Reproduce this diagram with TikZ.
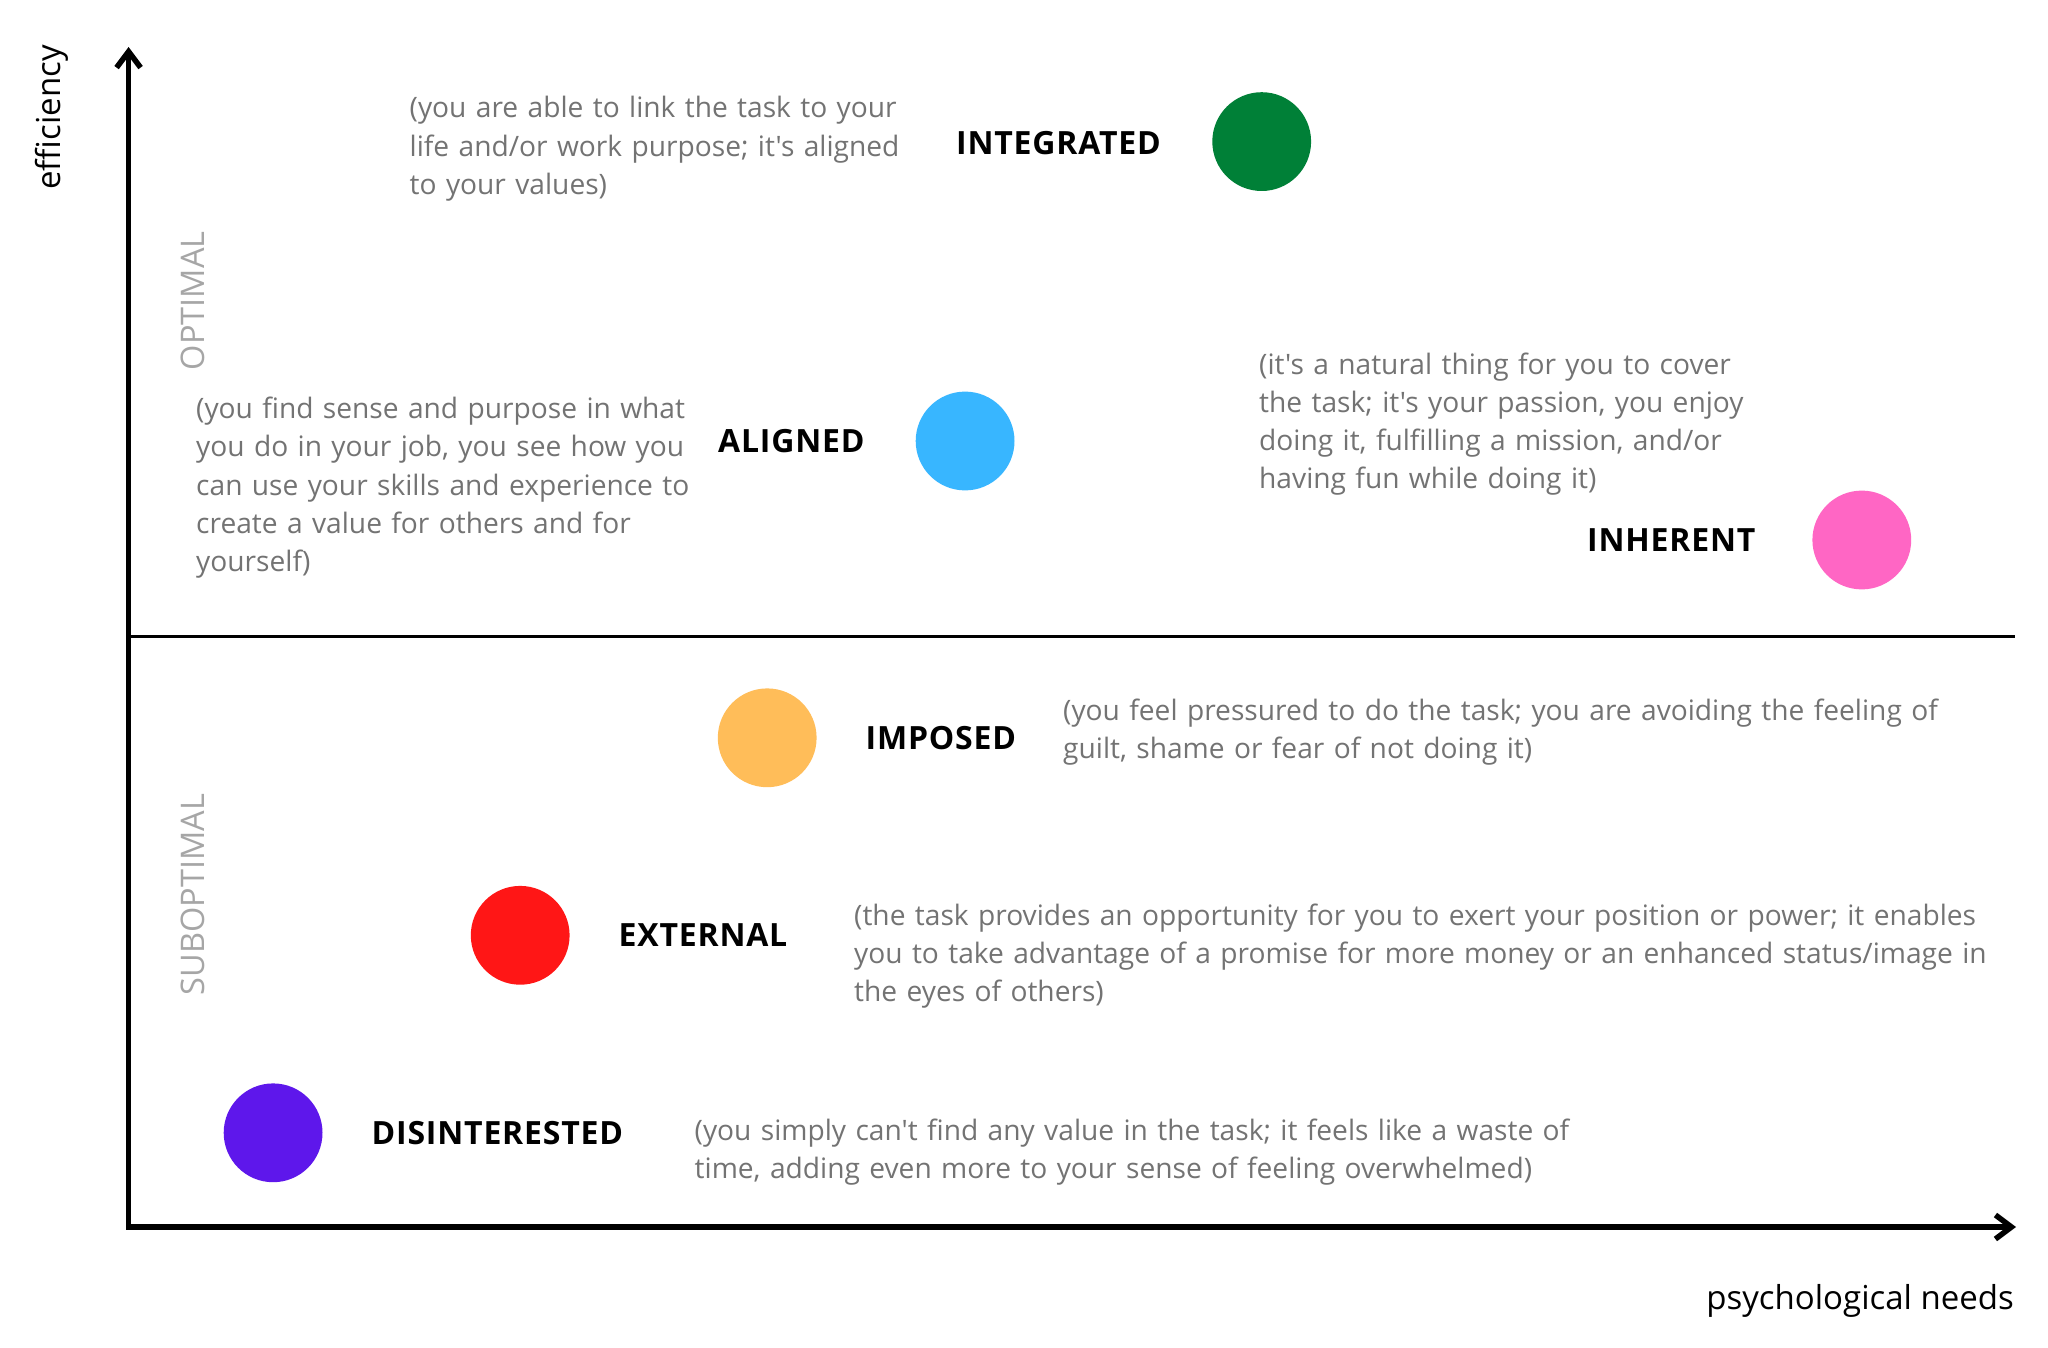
\documentclass[tikz,border=0pt]{standalone}
\usepackage{fontspec}
\setmainfont{Open Sans}[Ligatures=TeXOff]
\newfontfamily\catfont{Open Sans}[Ligatures=TeXOff,LetterSpace=2.5]
\usetikzlibrary{arrows.meta}
\definecolor{cgreen}{HTML}{008037}
\definecolor{cblue}{HTML}{38B6FF}
\definecolor{cpink}{HTML}{FF66C4}
\definecolor{corange}{HTML}{FFBD59}
\definecolor{cred}{HTML}{FF1616}
\definecolor{cpurple}{HTML}{5E17EB}
\definecolor{desctext}{HTML}{737373}
\definecolor{zonetext}{HTML}{A6A6A6}
\begin{document}
\begin{tikzpicture}[x=1pt,y=-1pt,
  dot/.style={circle,minimum size=98.8pt,inner sep=0pt,draw=none},
  descbox/.style={anchor=base west,inner sep=0pt,text width=1300pt,align=left,text=desctext,font=\fontsize{28.15}{38.3}\selectfont},
  catname/.style={anchor=base west,inner sep=0pt,font=\catfont\fontsize{32}{38}\selectfont\bfseries},
  zonename/.style={rotate=90,anchor=base,inner sep=0pt,text=zonetext,font=\fontsize{32.5}{38}\selectfont},
  axisname/.style={inner sep=0pt,font=\fontsize{33}{40}\selectfont},
  axisline/.style={line width=5.5pt},
  midline/.style={line width=2.6pt},
  barb/.tip={Straight Barb[length=16pt,width=24pt]}
]
\useasboundingbox (0,0) rectangle (2048,1348);
\fill[white] (0,0) rectangle (2048,1348);

% axes
\coordinate (O) at (128.6,1227);
\coordinate (ytop) at (128.6,47);
\coordinate (xend) at (2016,1227);
\draw[axisline,barb-barb] (ytop) -- (O) -- (xend);
\coordinate (ml) at (128.6,636.5);
\coordinate (mr) at (2015,636.5);
\draw[midline] (ml) -- (mr);

\node[axisname,rotate=90,anchor=base] (eff) at (60.7,117.3) {efficiency};
\node[axisname,anchor=base east] (psy) at (2014,1309.4) {psychological needs};

\node[zonename] (opt) at (204,300.8) {OPTIMAL};
\node[zonename] (subopt) at (204,894.7) {SUBOPTIMAL};

% dots
\node[dot,fill=cgreen] (dintegrated) at (1261.7,141.6) {};
\node[dot,fill=cblue] (daligned) at (965.1,441) {};
\node[dot,fill=cpink] (dinherent) at (1861.8,540) {};
\node[dot,fill=corange] (dimposed) at (767.2,737.8) {};
\node[dot,fill=cred] (dexternal) at (520.2,935.3) {};
\node[dot,fill=cpurple] (ddisint) at (273.1,1132.8) {};

% category names
\node[catname] (lintegrated) at (956,154.8) {INTEGRATED};
\node[catname] (laligned) at (718,452.3) {ALIGNED};
\node[catname] (linherent) at (1587,551.1) {INHERENT};
\node[catname] (limposed) at (865.5,749.4) {IMPOSED};
\node[catname] (lexternal) at (618.5,946) {EXTERNAL};
\node[catname] (ldisint) at (371.5,1144) {DISINTERESTED};

% descriptions
\node[descbox] (tintegrated) at (409.5,118) {(you are able to link the task to your\\life and/or work purpose; it's aligned\\to your values)};
\node[descbox] (taligned) at (196,418.5) {(you find sense and purpose in what\\you do in your job, you see how you\\can use your skills and experience to\\create a value for others and for\\yourself)};
\node[descbox] (tinherent) at (1259,374) {(it's a natural thing for you to cover\\the task; it's your passion, you enjoy\\doing it, fulfilling a mission, and/or\\having fun while doing it)};
\node[descbox] (timposed) at (1063,720) {(you feel pressured to do the task; you are avoiding the feeling of\\guilt, shame or fear of not doing it)};
\node[descbox] (texternal) at (854,925) {(the task provides an opportunity for you to exert your position or power; it enables\\you to take advantage of a promise for more money or an enhanced status/image in\\the eyes of others)};
\node[descbox] (tdisint) at (694.5,1140) {(you simply can't find any value in the task; it feels like a waste of\\time, adding even more to your sense of feeling overwhelmed)};
\end{tikzpicture}
\end{document}
